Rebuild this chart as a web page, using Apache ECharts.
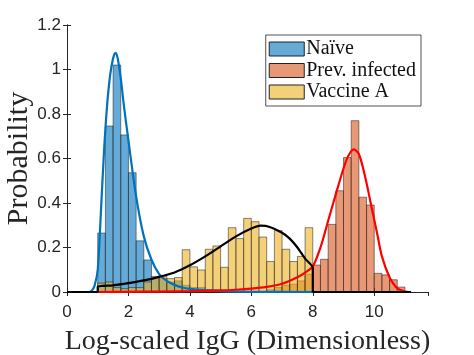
<!DOCTYPE html>
<html><head><meta charset="utf-8">
<script src="https://cdn.jsdelivr.net/npm/echarts@6/dist/echarts.min.js"></script>
<style>html,body{margin:0;padding:0;background:#fff}#c{width:474px;height:355px}</style>
</head><body><div id="c"></div>
<script>
// ---- data ----
const seriesNames = ['Naïve', 'Prev. infected', 'Vaccine A'];
const binWidth = 0.25;
const blueStart = 1.0;
const blueHeights = [0.265, 0.746, 1.02, 0.706, 0.536, 0.23, 0.144, 0.065, 0.06, 0.045, 0.05, 0.03, 0.02, 0.02, 0.01, 0.01];
const orangeStart = 6.5;
const orangeHeights = [0.01, 0.02, 0.03, 0.035, 0.05, 0.08, 0.121, 0.147, 0.304, 0.455, 0.604, 0.77, 0.426, 0.391, 0.084, 0.077, 0.055, 0.022];
const yellowStart = 1.0;
const yellowHeights = [0.04, 0.045, 0.02, 0.015, 0.02, 0.02, 0.045, 0.07, 0.072, 0.06, 0.065, 0.19, 0.113, 0.099, 0.192, 0.207, 0.111, 0.289, 0.24, 0.331, 0.316, 0.247, 0.137, 0.276, 0.192, 0.137, 0.16, 0.289];

const blueCurveX = [0, 0.7, 0.8, 0.9, 1.0, 1.1, 1.2, 1.3, 1.4, 1.5, 1.58, 1.65, 1.75, 1.85, 2.0, 2.25, 2.5, 2.75, 3.0, 3.25, 3.5, 3.75, 4.0, 4.5, 5.0, 6.0, 8.0];
const blueCurveY = [0, 0, 0.005, 0.03, 0.1, 0.35, 0.62, 0.83, 0.97, 1.05, 1.075, 1.05, 0.96, 0.84, 0.68, 0.43, 0.25, 0.145, 0.08, 0.05, 0.032, 0.02, 0.014, 0.008, 0.004, 0.001, 0];
const redCurveX = [1.0, 2.0, 3.0, 4.0, 5.0, 5.5, 6.0, 6.5, 7.0, 7.5, 7.75, 8.0, 8.25, 8.5, 8.75, 9.0, 9.15, 9.33, 9.5, 9.7, 9.9, 10.1, 10.25, 10.5, 10.7, 10.85, 11.1];
const redCurveY = [0, 0.001, 0.002, 0.004, 0.007, 0.01, 0.015, 0.023, 0.037, 0.066, 0.087, 0.115, 0.2, 0.32, 0.44, 0.555, 0.61, 0.641, 0.62, 0.52, 0.39, 0.26, 0.16, 0.065, 0.024, 0.009, 0];
const blackCurveX = [0, 1.0, 1.0, 1.5, 2.0, 2.5, 3.0, 3.5, 4.0, 4.5, 5.0, 5.5, 6.0, 6.3, 6.6, 7.0, 7.25, 7.5, 7.75, 8.0, 8.0, 11.2];
const blackCurveY = [0, 0, 0.024, 0.03, 0.04, 0.052, 0.068, 0.088, 0.12, 0.16, 0.205, 0.25, 0.285, 0.298, 0.292, 0.266, 0.24, 0.2, 0.15, 0.109, 0, 0];

const xTicks = [0, 2, 4, 6, 8, 10];
const yTicks = [0, 0.2, 0.4, 0.6, 0.8, 1, 1.2];

// ---- build ----
function bins(start, heights) {
  return heights.map((h, i) => [start + i * binWidth, start + (i + 1) * binWidth, h]);
}
function pts(xs, ys) { return xs.map((x, i) => [x, ys[i]]); }

function histItem(params, api) {
  const x0 = api.value(0), x1 = api.value(1), h = api.value(2);
  const a = api.coord([x0, h]);
  const b = api.coord([x1, 0]);
  return {
    type: 'rect',
    shape: { x: a[0], y: a[1], width: b[0] - a[0], height: b[1] - a[1] },
    style: { fill: api.visual('color'), stroke: 'rgba(30,30,30,0.75)', lineWidth: 0.7 }
  };
}

const axisCol = '#262626';
const tickFont = { fontFamily: 'Liberation Sans', fontSize: 17, color: axisCol };
const serif = 'Liberation Serif';

const chart = echarts.init(document.getElementById('c'), null, { renderer: 'canvas' });
const baseX = { type: 'value', min: 0, max: 11.75, interval: 2, splitLine: { show: false },
  axisLine: { lineStyle: { color: axisCol, width: 1 } }, axisTick: { inside: true, length: 4, lineStyle: { color: axisCol } } };
const baseY = { type: 'value', min: 0, max: 1.2, interval: 0.2, splitLine: { show: false },
  axisLine: { show: true, lineStyle: { color: axisCol, width: 1 } }, axisTick: { show: true, inside: true, length: 4, lineStyle: { color: axisCol } } };

chart.setOption({
  animation: false,
  backgroundColor: '#fff',
  grid: { left: 67, right: 46, top: 25, bottom: 63, containLabel: false, outerBoundsMode: 'none' },
  xAxis: [
    Object.assign({}, baseX, {
      position: 'bottom',
      axisLabel: Object.assign({ margin: 12, showMaxLabel: false, formatter: v => xTicks.includes(v) ? String(v) : '' }, tickFont),
      name: 'Log-scaled IgG (Dimensionless)', nameLocation: 'middle', nameGap: 36,
      nameTextStyle: { fontFamily: serif, fontSize: 28, color: axisCol }
    }),
    Object.assign({}, baseX, { position: 'top', axisLabel: { show: false } })
  ],
  yAxis: [
    Object.assign({}, baseY, {
      position: 'left',
      axisLabel: Object.assign({ margin: 6, formatter: v => { const t = yTicks.find(k => Math.abs(k - v) < 1e-9); return t === undefined ? '' : String(t); } }, tickFont),
      name: 'Probability', nameLocation: 'middle', nameGap: 33, nameMoveOverlap: false,
      nameTextStyle: { fontFamily: serif, fontSize: 30, color: axisCol }
    }),
    Object.assign({}, baseY, { position: 'right', axisLabel: { show: false } })
  ],
  legend: {
    data: seriesNames, orient: 'vertical', right: 53, top: 35,
    icon: 'rect', itemWidth: 35, itemHeight: 14, itemGap: 1.5,
    backgroundColor: '#fff', borderColor: axisCol, borderWidth: 0.8, padding: [4, 5, 4, 3],
    textStyle: { fontFamily: serif, fontSize: 20, lineHeight: 20, color: '#111', padding: [0, 0, 0, -3] },
    itemStyle: { borderColor: '#222', borderWidth: 1 }
  },
  series: [
    { name: seriesNames[0], type: 'custom', renderItem: histItem, data: bins(blueStart, blueHeights), encode: { x: [0, 1], y: 2 }, itemStyle: { color: 'rgba(0,114,189,0.6)' }, z: 2 },
    { name: seriesNames[1], type: 'custom', renderItem: histItem, data: bins(orangeStart, orangeHeights), encode: { x: [0, 1], y: 2 }, itemStyle: { color: 'rgba(217,83,25,0.6)' }, z: 2 },
    { name: seriesNames[2], type: 'custom', renderItem: histItem, data: bins(yellowStart, yellowHeights), encode: { x: [0, 1], y: 2 }, itemStyle: { color: 'rgba(237,177,32,0.6)' }, z: 2 },
    { name: 'fitBlue', type: 'line', data: pts(blueCurveX, blueCurveY), showSymbol: false, smooth: 0.3, lineStyle: { color: '#0072BD', width: 2.2 }, z: 3 },
    { name: 'fitRed', type: 'line', data: pts(redCurveX, redCurveY), showSymbol: false, smooth: 0.3, lineStyle: { color: '#FF0000', width: 2.2 }, z: 3 },
    { name: 'fitBlack', type: 'line', data: pts(blackCurveX, blackCurveY), showSymbol: false, smooth: 0.2, lineStyle: { color: '#000', width: 2.2 }, z: 3 }
  ]
});
</script>
</body></html>
